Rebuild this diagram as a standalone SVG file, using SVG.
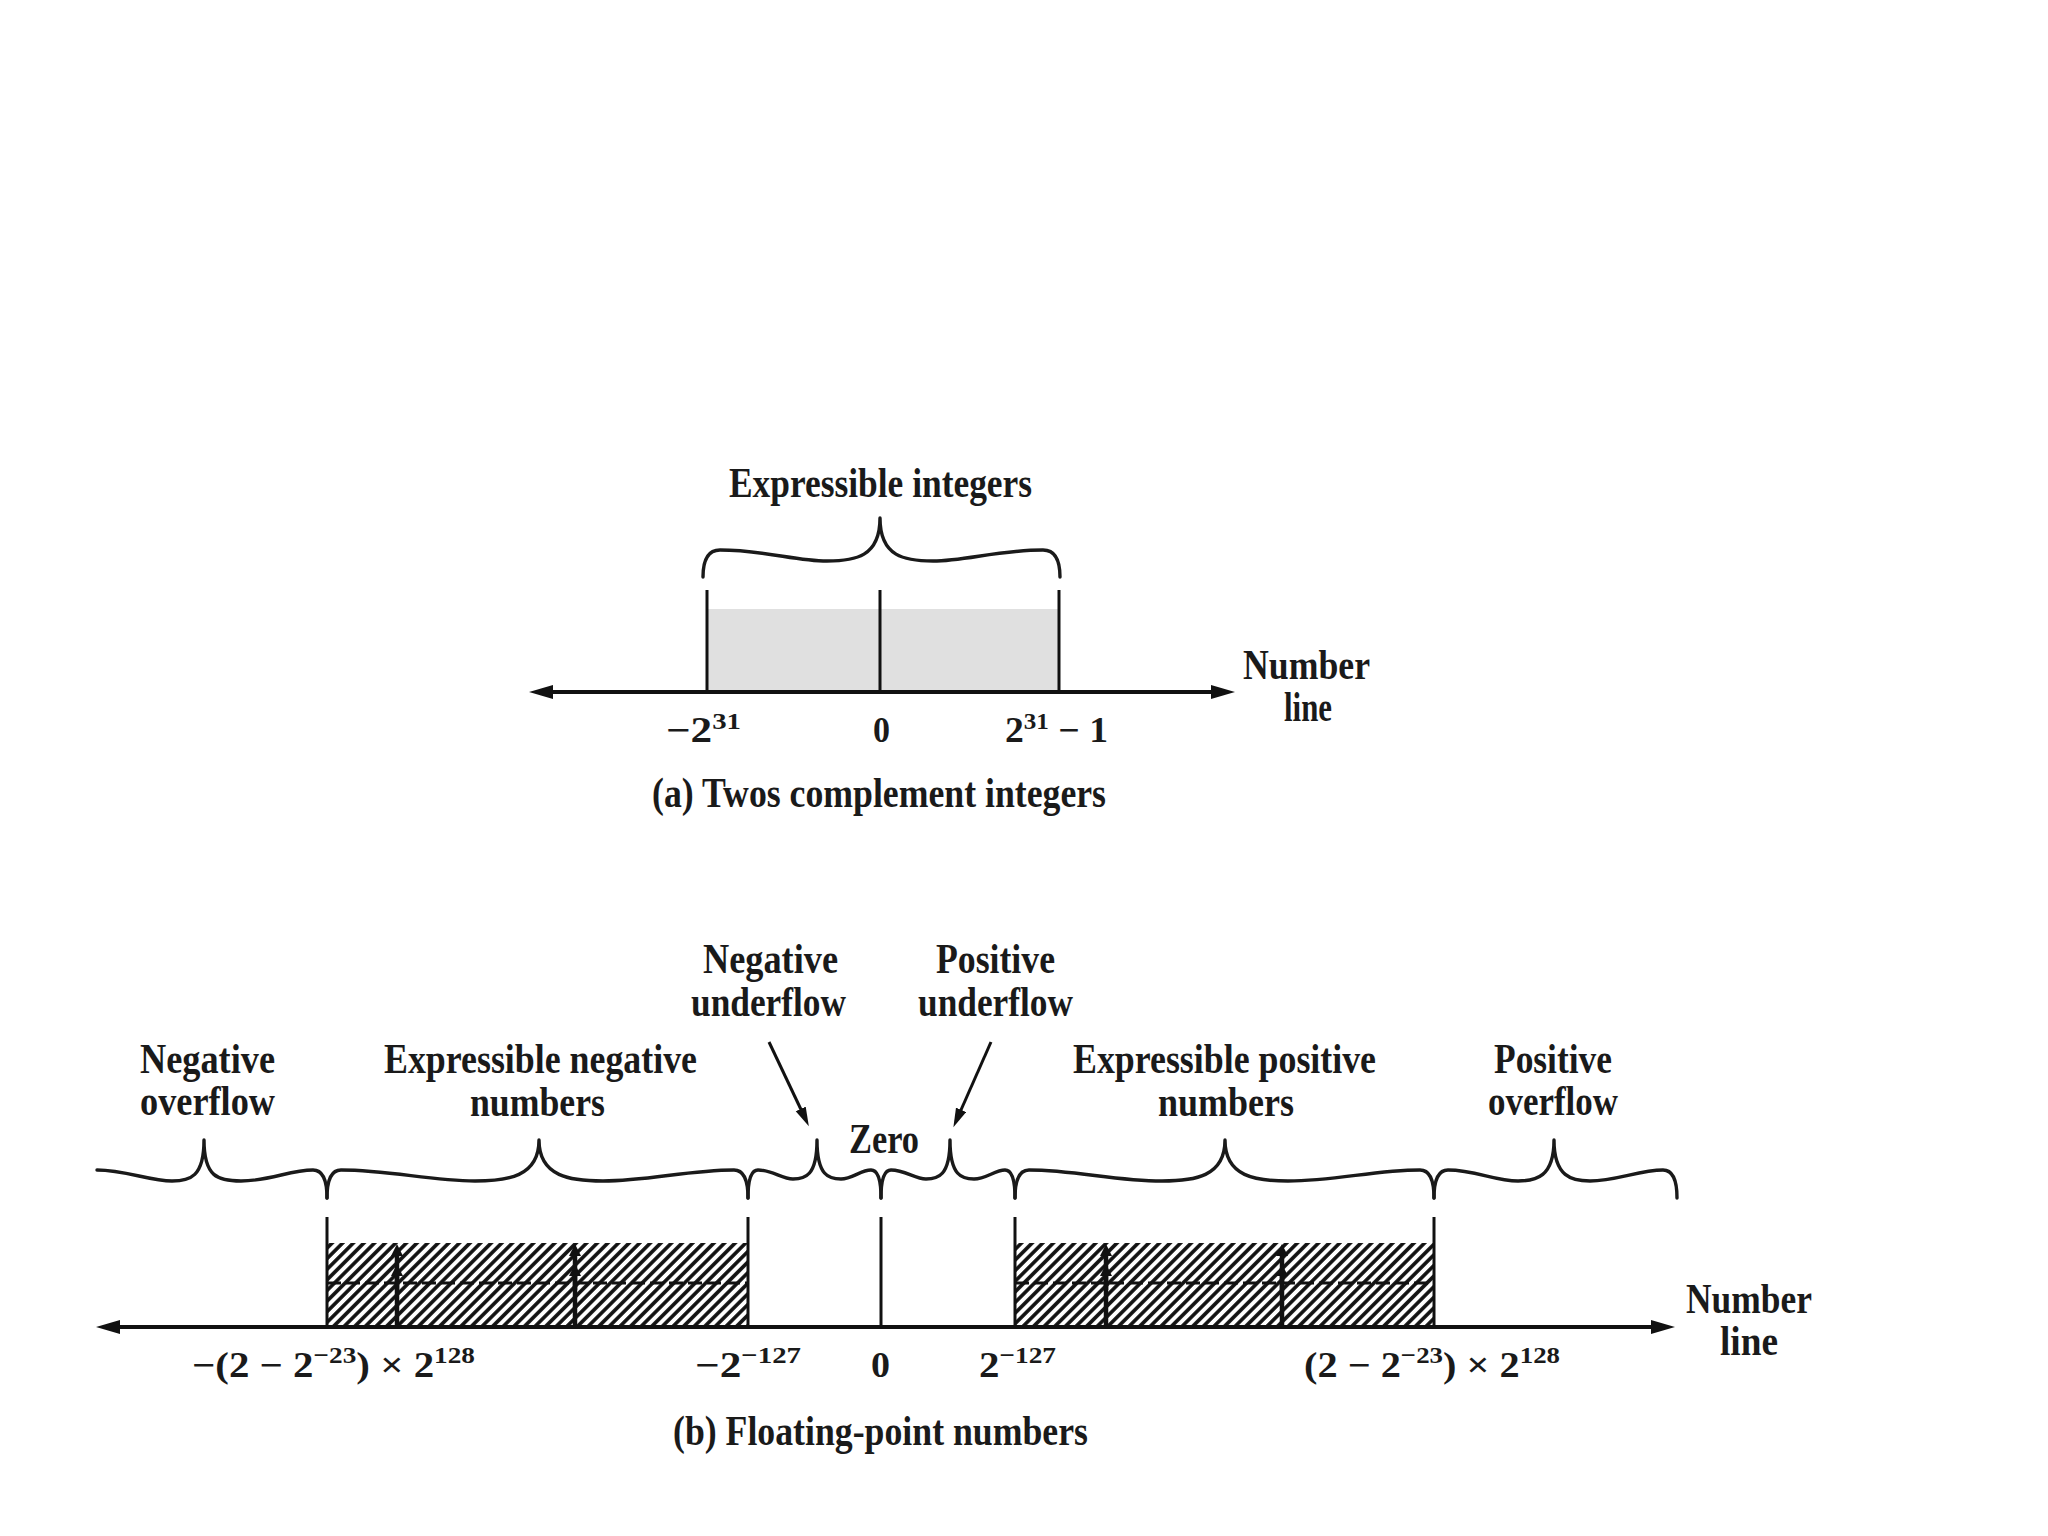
<svg xmlns="http://www.w3.org/2000/svg" width="2048" height="1536" viewBox="0 0 2048 1536">
<style>
.t{font-family:"Liberation Serif","Times New Roman",serif;font-weight:bold;font-size:42px;fill:#1a1a1a}
.m{font-family:"Liberation Serif","Times New Roman",serif;font-weight:bold;font-size:36px;fill:#1a1a1a}
.sup{font-size:24px}
.axis{stroke:#111;stroke-width:4;fill:none}
.tick{stroke:#111;stroke-width:3;fill:none}
.brace{stroke:#1a1a1a;stroke-width:3.4;fill:none;stroke-linejoin:round;stroke-linecap:round}
.ptr{stroke:#111;stroke-width:3;fill:none}
</style>
<defs>
<marker id="axisHead" markerUnits="userSpaceOnUse" markerWidth="26" markerHeight="16" refX="14" refY="8" orient="auto-start-reverse"><path d="M0,1 L24,8 L0,15 z" fill="#111"/></marker>
<marker id="ptrHead" markerUnits="userSpaceOnUse" markerWidth="20" markerHeight="12" refX="10" refY="6" orient="auto"><path d="M0,0.5 L19,6 L0,11.5 z" fill="#111"/></marker>
<marker id="upHead" markerUnits="userSpaceOnUse" markerWidth="12" markerHeight="12" refX="6" refY="6" orient="auto"><path d="M0,0 L12,6 L0,12 z" fill="#111"/></marker>
<pattern id="hatch" patternUnits="userSpaceOnUse" width="7.5" height="7.5" patternTransform="rotate(45)"><rect width="7.5" height="7.5" fill="#fff"/><line x1="3.75" y1="-1" x2="3.75" y2="8.5" stroke="#111" stroke-width="3.6"/></pattern>
</defs>
<rect width="2048" height="1536" fill="#fff"/>

<!-- (a) Twos complement integers -->
<g id="part-a">
  <g id="a-range">
    <rect x="707" y="609" width="352" height="83" fill="#e0e0e0"/>
    <line class="tick" x1="707" y1="590" x2="707" y2="692"/>
    <line class="tick" x1="880" y1="590" x2="880" y2="692"/>
    <line class="tick" x1="1059" y1="590" x2="1059" y2="692"/>
  </g>
  <g id="a-brace">
    <path class="brace" d="M703,577 Q703,550 720,550 C765,550 795,561 827,561 C855,561 880,557 880,518 C880,557 905,561 933,561 C965,561 998,550 1043,550 Q1060,550 1060,577"/>
    <text class="t" x="729" y="497" textLength="303" lengthAdjust="spacingAndGlyphs">Expressible integers</text>
  </g>
  <g id="a-axis">
    <line class="axis" x1="539" y1="692" x2="1225" y2="692" marker-start="url(#axisHead)" marker-end="url(#axisHead)"/>
    <text class="t" x="1243" y="679" textLength="127" lengthAdjust="spacingAndGlyphs">Number</text>
    <text class="t" x="1284" y="721" textLength="48" lengthAdjust="spacingAndGlyphs">line</text>
  </g>
  <g id="a-values">
    <text class="m" x="666" y="742" textLength="75" lengthAdjust="spacingAndGlyphs">−2<tspan class="sup" dy="-13">31</tspan></text>
    <text class="m" x="873" y="742" textLength="17" lengthAdjust="spacingAndGlyphs">0</text>
    <text class="m" x="1005" y="742" textLength="103" lengthAdjust="spacingAndGlyphs">2<tspan class="sup" dy="-13">31</tspan><tspan dy="13"> − 1</tspan></text>
  </g>
  <text id="a-caption" class="t" x="652" y="807" textLength="454" lengthAdjust="spacingAndGlyphs">(a) Twos complement integers</text>
</g>

<!-- (b) Floating-point numbers -->
<g id="part-b">
  <g id="b-ranges">
    <rect x="327" y="1243" width="421" height="84" fill="url(#hatch)"/>
    <rect x="1015" y="1243" width="419" height="84" fill="url(#hatch)"/>
    <line stroke="#111" stroke-width="3" stroke-dasharray="14 5" x1="327" y1="1283" x2="748" y2="1283"/>
    <line stroke="#111" stroke-width="3" stroke-dasharray="14 5" x1="1015" y1="1283" x2="1434" y2="1283"/>
    <g stroke="#111" stroke-width="4.5">
      <line x1="397" y1="1327" x2="397" y2="1250" marker-end="url(#upHead)"/>
      <line x1="397" y1="1290" x2="397" y2="1270" marker-end="url(#upHead)"/>
      <line x1="575" y1="1327" x2="575" y2="1250" marker-end="url(#upHead)"/>
      <line x1="575" y1="1290" x2="575" y2="1270" marker-end="url(#upHead)"/>
      <line x1="1106" y1="1327" x2="1106" y2="1250" marker-end="url(#upHead)"/>
      <line x1="1106" y1="1290" x2="1106" y2="1270" marker-end="url(#upHead)"/>
      <line x1="1282" y1="1327" x2="1282" y2="1250" marker-end="url(#upHead)"/>
      <line x1="1282" y1="1290" x2="1282" y2="1270" marker-end="url(#upHead)"/>
    </g>
    <line class="tick" x1="327" y1="1217" x2="327" y2="1327"/>
    <line class="tick" x1="748" y1="1217" x2="748" y2="1327"/>
    <line class="tick" x1="881" y1="1217" x2="881" y2="1327"/>
    <line class="tick" x1="1015" y1="1217" x2="1015" y2="1327"/>
    <line class="tick" x1="1434" y1="1217" x2="1434" y2="1327"/>
  </g>
  <g id="b-braces">
    <path class="brace" d="M97,1170 C125,1170 150,1181 172,1181 C190,1181 204,1177 204,1140 C204,1177 218,1181 241,1181 C270,1181 290,1170 313,1170 Q327,1170 327,1198"/>
    <path class="brace" d="M327,1198 Q327,1170 341,1170 C390,1170 430,1181 475,1181 C507,1181 539,1177 539,1140 C539,1177 571,1181 603,1181 C648,1181 688,1170 734,1170 Q748,1170 748,1198"/>
    <path class="brace" d="M748,1198 Q748,1170 758,1170 C772,1170 782,1179 793,1179 C805,1179 817,1176 817,1140 C817,1176 829,1179 841,1179 C852,1179 861,1170 871,1170 Q881,1170 881,1198"/>
    <path class="brace" d="M881,1198 Q881,1170 891,1170 C905,1170 915,1179 926,1179 C938,1179 950,1176 950,1140 C950,1176 962,1179 974,1179 C986,1179 995,1170 1005,1170 Q1015,1170 1015,1198"/>
    <path class="brace" d="M1015,1198 Q1015,1170 1029,1170 C1075,1170 1115,1181 1162,1181 C1194,1181 1225,1177 1225,1140 C1225,1177 1256,1181 1288,1181 C1335,1181 1375,1170 1420,1170 Q1434,1170 1434,1198"/>
    <path class="brace" d="M1434,1198 Q1434,1170 1448,1170 C1475,1170 1495,1181 1518,1181 C1536,1181 1554,1177 1554,1140 C1554,1177 1572,1181 1590,1181 C1615,1181 1640,1170 1663,1170 Q1677,1170 1677,1198"/>
  </g>
  <g id="b-region-labels">
    <g id="neg-overflow">
      <text class="t" x="140" y="1073" textLength="135" lengthAdjust="spacingAndGlyphs">Negative</text>
      <text class="t" x="140" y="1115" textLength="135" lengthAdjust="spacingAndGlyphs">overflow</text>
    </g>
    <g id="expr-neg">
      <text class="t" x="384" y="1073" textLength="313" lengthAdjust="spacingAndGlyphs">Expressible negative</text>
      <text class="t" x="470" y="1116" textLength="135" lengthAdjust="spacingAndGlyphs">numbers</text>
    </g>
    <g id="neg-underflow">
      <text class="t" x="703" y="973" textLength="135" lengthAdjust="spacingAndGlyphs">Negative</text>
      <text class="t" x="691" y="1016" textLength="155" lengthAdjust="spacingAndGlyphs">underflow</text>
    </g>
    <g id="pos-underflow">
      <text class="t" x="936" y="973" textLength="119" lengthAdjust="spacingAndGlyphs">Positive</text>
      <text class="t" x="918" y="1016" textLength="155" lengthAdjust="spacingAndGlyphs">underflow</text>
    </g>
    <g id="expr-pos">
      <text class="t" x="1073" y="1073" textLength="303" lengthAdjust="spacingAndGlyphs">Expressible positive</text>
      <text class="t" x="1158" y="1116" textLength="136" lengthAdjust="spacingAndGlyphs">numbers</text>
    </g>
    <g id="pos-overflow">
      <text class="t" x="1494" y="1073" textLength="118" lengthAdjust="spacingAndGlyphs">Positive</text>
      <text class="t" x="1488" y="1115" textLength="130" lengthAdjust="spacingAndGlyphs">overflow</text>
    </g>
    <g id="zero">
      <text class="t" x="849" y="1153" textLength="70" lengthAdjust="spacingAndGlyphs">Zero</text>
    </g>
  </g>
  <g id="connectors">
    <line class="ptr" x1="769" y1="1042" x2="805" y2="1118" marker-end="url(#ptrHead)"/>
    <line class="ptr" x1="991" y1="1042" x2="957" y2="1119" marker-end="url(#ptrHead)"/>
  </g>
  <g id="b-axis">
    <line class="axis" x1="106" y1="1327" x2="1665" y2="1327" marker-start="url(#axisHead)" marker-end="url(#axisHead)"/>
    <text class="t" x="1686" y="1313" textLength="126" lengthAdjust="spacingAndGlyphs">Number</text>
    <text class="t" x="1720" y="1355" textLength="58" lengthAdjust="spacingAndGlyphs">line</text>
  </g>
  <g id="b-values">
    <text class="m" x="192" y="1377" textLength="283" lengthAdjust="spacingAndGlyphs">−(2 − 2<tspan class="sup" dy="-14">−23</tspan><tspan dy="14">) × 2</tspan><tspan class="sup" dy="-14">128</tspan></text>
    <text class="m" x="695" y="1377" textLength="106" lengthAdjust="spacingAndGlyphs">−2<tspan class="sup" dy="-14">−127</tspan></text>
    <text class="m" x="871" y="1377" textLength="19" lengthAdjust="spacingAndGlyphs">0</text>
    <text class="m" x="979" y="1377" textLength="77" lengthAdjust="spacingAndGlyphs">2<tspan class="sup" dy="-14">−127</tspan></text>
    <text class="m" x="1304" y="1377" textLength="256" lengthAdjust="spacingAndGlyphs">(2 − 2<tspan class="sup" dy="-14">−23</tspan><tspan dy="14">) × 2</tspan><tspan class="sup" dy="-14">128</tspan></text>
  </g>
  <text id="b-caption" class="t" x="673" y="1445" textLength="415" lengthAdjust="spacingAndGlyphs">(b) Floating-point numbers</text>
</g>
</svg>
